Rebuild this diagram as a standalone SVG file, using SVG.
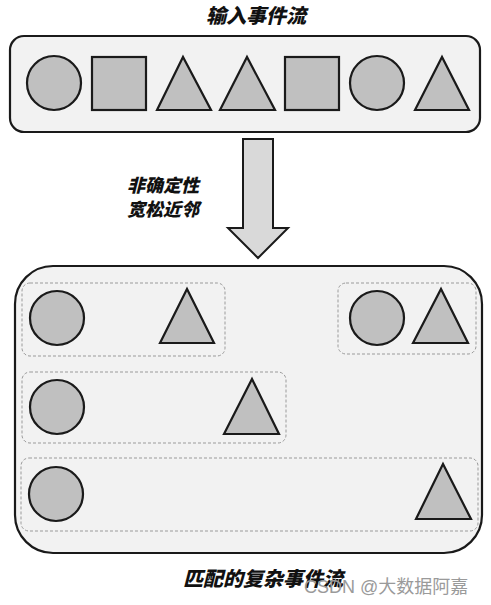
<svg xmlns="http://www.w3.org/2000/svg" width="491" height="605" viewBox="0 0 491 605">
<style>
.box{fill:#f2f2f2;stroke:#1a1a1a;stroke-width:2.2}
.shp{fill:#c0c0c0;stroke:#1a1a1a;stroke-width:2.2;stroke-linejoin:miter}
.grp{fill:none;stroke:#9a9a9a;stroke-width:1;stroke-dasharray:3,2}
.t{font-family:"Noto Sans CJK SC","Liberation Sans",sans-serif;font-weight:900;font-style:italic;fill:#111;text-anchor:middle}
.wm{font-family:"Liberation Sans","Noto Sans CJK SC",sans-serif;fill:#9a9a9a;font-size:18px}
</style>
<rect width="491" height="605" fill="#ffffff"/>
<g id="title-input"><text class="t" x="256" y="23" font-size="20">输入事件流</text></g>
<g id="input-stream">
<rect class="box" x="10" y="36" width="470" height="96" rx="14"/>
<circle class="shp" cx="54" cy="83" r="27"/>
<rect class="shp" x="92" y="57" width="54" height="53"/>
<polygon class="shp" points="157,110 183,57 211,110"/>
<polygon class="shp" points="220,110 247,57 275,110"/>
<rect class="shp" x="285" y="57" width="54" height="53"/>
<circle class="shp" cx="377" cy="83" r="27"/>
<polygon class="shp" points="415,110 442,57 469,110"/>
</g>
<g id="connectors">
<polygon points="243,139 273,139 273,228 288,228 258,258 228,228 243,228" fill="#d9d9d9" stroke="#1a1a1a" stroke-width="2"/>
</g>
<g id="label-arrow">
<text class="t" x="163" y="192" font-size="18">非确定性</text>
<text class="t" x="163" y="216" font-size="18">宽松近邻</text>
</g>
<g id="output-stream">
<rect class="box" x="15" y="266" width="467" height="287" rx="38"/>
<rect class="grp" x="22" y="283" width="203" height="73" rx="8"/>
<rect class="grp" x="338" y="283" width="138" height="71" rx="8"/>
<rect class="grp" x="22" y="372" width="264" height="71" rx="8"/>
<rect class="grp" x="21" y="458" width="457" height="73" rx="8"/>
<circle class="shp" cx="57" cy="318" r="27"/>
<polygon class="shp" points="160,343 187,289 214,343"/>
<circle class="shp" cx="377" cy="318" r="27"/>
<polygon class="shp" points="413,343 441,289 468,343"/>
<circle class="shp" cx="57" cy="407" r="27"/>
<polygon class="shp" points="224,434 252,379 279,434"/>
<circle class="shp" cx="56" cy="494" r="27"/>
<polygon class="shp" points="416,519 443,464 471,519"/>
</g>
<g id="title-output"><text class="t" x="263" y="586" font-size="20">匹配的复杂事件流</text></g>
<text class="wm" x="304" y="593">CSDN @大数据阿嘉</text>
</svg>
